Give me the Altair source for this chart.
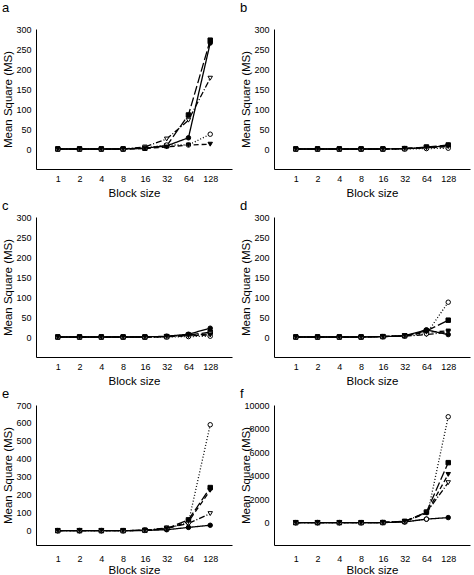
import altair as alt
import pandas as pd

BLOCKS = ["1", "2", "4", "8", "16", "32", "64", "128"]
SERIES = ["sq", "fc", "ot", "oc", "ft"]
SHAPES = ["square", "circle", "triangle-down", "circle", "triangle-down"]
FILLS = ["black", "black", "white", "white", "black"]
DASHES = [[9, 3], [1, 0], [6, 2, 1, 2], [1, 2], [5, 3]]

PANEL_A = {
    "sq": [0, 0, 0, 0, 2, 8, 85, 272],
    "fc": [0, 0, 0, 0, 2, 8, 28, 265],
    "ot": [0, 0, 0, 0, 5, 25, 72, 177],
    "oc": [0, 0, 0, 0, 3, 10, 10, 37],
    "ft": [0, 0, 0, 0, 1, 5, 10, 12],
}
PANEL_B = {
    "sq": [0, 0, 0, 0, 0, 1, 5, 10],
    "fc": [0, 0, 0, 0, 0, 1, 3, 9],
    "ot": [0, 0, 0, 0, 0, 1, 4, 7],
    "oc": [0, 0, 0, 0, 0, 0, 1, 2],
    "ft": [0, 0, 0, 0, 0, 1, 3, 6],
}
PANEL_C = {
    "sq": [0, 0, 0, 0, 0, 1, 5, 12],
    "fc": [0, 0, 0, 0, 0, 2, 7, 22],
    "ot": [0, 0, 0, 0, 0, 1, 4, 8],
    "oc": [0, 0, 0, 0, 0, 0, 1, 2],
    "ft": [0, 0, 0, 0, 0, 1, 3, 5],
}
PANEL_D = {
    "sq": [0, 0, 0, 0, 1, 3, 15, 42],
    "fc": [0, 0, 0, 0, 1, 3, 18, 6],
    "ot": [0, 0, 0, 0, 1, 2, 6, 12],
    "oc": [0, 0, 0, 0, 1, 3, 8, 87],
    "ft": [0, 0, 0, 0, 1, 3, 12, 15],
}
PANEL_E = {
    "sq": [0, 0, 0, 0, 2, 12, 60, 240],
    "fc": [0, 0, 0, 0, 1, 5, 18, 30],
    "ot": [0, 0, 0, 0, 2, 15, 40, 95],
    "oc": [0, 0, 0, 0, 2, 12, 45, 590],
    "ft": [0, 0, 0, 0, 2, 10, 50, 225],
}
PANEL_F = {
    "sq": [0, 0, 0, 0, 10, 100, 900, 5100],
    "fc": [0, 0, 0, 0, 10, 60, 300, 430],
    "ot": [0, 0, 0, 0, 10, 120, 850, 3400],
    "oc": [0, 0, 0, 0, 10, 80, 300, 9000],
    "ft": [0, 0, 0, 0, 10, 100, 800, 4100],
}

TICKS_300 = [0, 50, 100, 150, 200, 250, 300]
TICKS_700 = [0, 100, 200, 300, 400, 500, 600, 700]
TICKS_10K = [0, 2000, 4000, 6000, 8000, 10000]

FONT = "Liberation Sans"
W, H = 196, 140


def panel(letter, vals, domain, ticks, title_offset, bottom=False):
    rows = []
    for s in SERIES:
        for b, v in zip(BLOCKS, vals[s]):
            rows.append({"block": b, "series": s, "ms": v})
    df = pd.DataFrame(rows)
    base = alt.Chart(df).encode(
        x=alt.X(
            "block:O",
            sort=BLOCKS,
            scale=alt.Scale(type="point", padding=1.0),
            axis=alt.Axis(
                title="Block size",
                labelAngle=0,
                ticks=False,
                labelPadding=9 if bottom else 5,
                titlePadding=1 if bottom else 4,
                labelFontSize=9,
                titleFontSize=11.5,
                titleFontWeight="normal",
                labelFont=FONT,
                titleFont=FONT,
                labelColor="black",
                titleColor="black",
                domainColor="black",
                grid=False,
            ),
        ),
        y=alt.Y(
            "ms:Q",
            scale=alt.Scale(domain=domain, nice=False, zero=False),
            axis=alt.Axis(
                title="Mean Square (MS)",
                values=ticks,
                format="d",
                ticks=False,
                labelPadding=5,
                minExtent=18,
                maxExtent=18,
                titlePadding=5,
                labelFontSize=9,
                titleFontSize=11.5,
                titleFontWeight="normal",
                labelFont=FONT,
                titleFont=FONT,
                labelColor="black",
                titleColor="black",
                domainColor="black",
                grid=False,
            ),
        ),
    )
    lines = base.mark_line(color="black", strokeWidth=1.3).encode(
        strokeDash=alt.StrokeDash(
            "series:N", scale=alt.Scale(domain=SERIES, range=DASHES), legend=None
        ),
        detail="series:N",
    )
    pts = base.mark_point(
        filled=True, size=20, stroke="black", strokeWidth=1, opacity=1
    ).encode(
        shape=alt.Shape(
            "series:N", scale=alt.Scale(domain=SERIES, range=SHAPES), legend=None
        ),
        fill=alt.Fill(
            "series:N", scale=alt.Scale(domain=SERIES, range=FILLS), legend=None
        ),
    )
    return alt.layer(lines, pts).properties(
        width=W,
        height=H,
        title=alt.TitleParams(
            text=letter,
            anchor="start",
            fontSize=13,
            fontWeight="normal",
            font=FONT,
            color="black",
            baseline="bottom",
            offset=title_offset,
        ),
    )


chart = (
    alt.concat(
        panel("a", PANEL_A, [-50, 300], TICKS_300, -3),
        panel("b", PANEL_B, [-50, 300], TICKS_300, -3),
        panel("c", PANEL_C, [-50, 300], TICKS_300, -13),
        panel("d", PANEL_D, [-50, 300], TICKS_300, -13),
        panel("e", PANEL_E, [-80, 700], TICKS_700, -13, bottom=True),
        panel("f", PANEL_F, [-1900, 10000], TICKS_10K, -13, bottom=True),
        columns=2,
        spacing=alt.RowColnumber(row=48, column=42),
        bounds="flush",
    )
    .resolve_scale(x="independent", y="independent")
    .properties(padding={"left": 2, "top": 2, "right": 3, "bottom": 0}, background="white")
    .configure_view(stroke=None)
)

chart.save("out.html", embed_options={"renderer": "svg", "actions": False})
